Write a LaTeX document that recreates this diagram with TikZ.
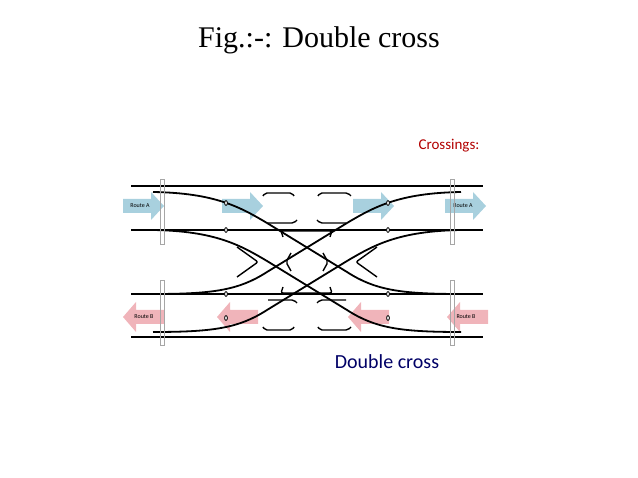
\documentclass[tikz,border=0pt]{standalone}
\usepackage{fontspec}
\setmainfont{Liberation Serif}
\newfontfamily\calfont{Carlito}
\begin{document}
\begin{tikzpicture}[x=1pt,y=-1pt,
  rail/.style={line width=2.2pt,black},
  trk/.style={line width=1.8pt,black},
  grd/.style={line width=1.4pt,black,rounded corners=2pt},
  joint/.style={draw=gray!70,line width=0.6pt},
  dot/.style={draw=black,fill=white,line width=0.8pt}]
\useasboundingbox (0,0) rectangle (638,478);
\definecolor{ab}{RGB}{168,208,222}
\definecolor{ar}{RGB}{240,180,186}
\node (title) at (319,40) {\fontsize{30}{34}\selectfont Fig.:-: Double cross};
\node[text=red!70!black] (cr) at (449,146) {\calfont\fontsize{15}{18}\selectfont Crossings:};
\node[text=blue!40!black] (dc) at (387,362) {\calfont\fontsize{20}{24}\selectfont Double cross};
% arrows right (blue)
\foreach \x in {123,222,353,445}
  \fill[ab] (\x,199) -- (\x+28,199) -- (\x+28,192) -- (\x+41,206) -- (\x+28,220) -- (\x+28,213) -- (\x,213) -- cycle;
% arrows left (red)
\foreach \x in {123,217,348,447}
  \fill[ar] (\x+41,310) -- (\x+13,310) -- (\x+13,302) -- (\x,317) -- (\x+13,332) -- (\x+13,324) -- (\x+41,324) -- cycle;
\node[font=\calfont\fontsize{6}{7}\selectfont] (ra1) at (140,206) {Route A};
\node[font=\calfont\fontsize{6}{7}\selectfont] (ra2) at (463,206) {Route A};
\node[font=\calfont\fontsize{6}{7}\selectfont] (rb1) at (144,317) {Route B};
\node[font=\calfont\fontsize{6}{7}\selectfont] (rb2) at (466,317) {Route B};
% rails
\foreach \y in {186,230,294,337} \draw[rail] (131,\y) -- (483,\y);
% tracks
\draw[trk] (153,192) .. controls (215,193) and (240,207) .. (267,223) -- (347,272) .. controls (375,290) and (400,294) .. (461,294);
\draw[trk] (461,192) .. controls (399,193) and (374,207) .. (347,223) -- (267,272) .. controls (239,290) and (214,294) .. (153,294);
\draw[trk] (153,230) .. controls (215,231) and (240,245) .. (267,261) -- (347,310) .. controls (375,328) and (400,332) .. (461,332);
\draw[trk] (461,230) .. controls (399,231) and (374,245) .. (347,261) -- (267,310) .. controls (239,328) and (214,332) .. (153,332);
% guard rails
\draw[grd] (263,196) -- (265,193) -- (292,193) -- (294,196);
\draw[grd] (318,196) -- (320,193) -- (348,193) -- (351,196);
\draw[grd] (268,223) -- (294,223) -- (297,220);
\draw[grd] (317,220) -- (320,223) -- (346,223);
\draw[grd] (263,327) -- (265,330) -- (292,330) -- (294,327);
\draw[grd] (318,327) -- (320,330) -- (348,330) -- (351,327);
\draw[grd] (268,300) -- (294,300) -- (297,303);
\draw[grd] (317,303) -- (320,300) -- (346,300);
\draw[grd] (283,237) -- (281,231) -- (332,231) -- (330,237);
\draw[grd] (283,287) -- (281,293) -- (332,293) -- (330,287);
\draw[grd] (237,247) -- (258,262) -- (237,277);
\draw[grd] (377,247) -- (356,262) -- (377,277);
\draw[grd] (291,253) -- (286,262) -- (291,271);
\draw[grd] (323,253) -- (328,262) -- (323,271);
% dots
\foreach \x in {226,388}{
  \foreach \y in {230,294} \draw[dot] (\x,\y) ellipse (1.4 and 2.4);
}
\draw[dot] (226,203) ellipse (1.4 and 2.4);
\draw[dot] (388,203) ellipse (1.4 and 2.4);
\draw[dot] (226,318) ellipse (1.4 and 2.4);
\draw[dot] (388,318) ellipse (1.4 and 2.4);
% joints
\foreach \x in {162,452}{
  \draw[joint] (\x-2,179) rectangle (\x+2,244);
  \draw[joint] (\x-2,280) rectangle (\x+2,345);
}
\end{tikzpicture}
\end{document}
